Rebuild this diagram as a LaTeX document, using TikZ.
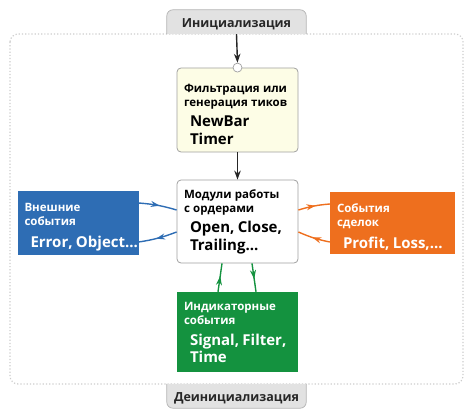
\documentclass[tikz,border=0pt]{standalone}
\usepackage{fontspec}
\setmainfont{Open Sans}
\usetikzlibrary{arrows.meta,decorations.markings,backgrounds}

\definecolor{sinij}{HTML}{2E6DB4}
\definecolor{oranzh}{HTML}{EE6F1E}
\definecolor{zelen}{HTML}{14923F}
\definecolor{zheltyj}{HTML}{FDFDE6}
\definecolor{ramka}{HTML}{A0A0A0}
\definecolor{vkladka}{HTML}{E2E2E2}

% заголовок и содержимое блока (необяз. аргументы -- сдвиг вниз и отступ)
\newcommand{\zagl}[2][0]{{\fontsize{11.5}{14}\selectfont\bfseries\rule{0pt}{\dimexpr9pt+#1pt*2\relax}#2\par}}
\newcommand{\soder}[2][3]{\vspace{#1pt}{\leftskip=6pt\hyphenpenalty=10000\fontsize{15}{17.5}\selectfont\bfseries #2\par}}

\tikzset{
  blok/.style={rectangle, rounded corners=4pt, draw=ramka, line width=0.8pt,
    minimum width=121pt, inner xsep=7pt, text width=107pt, align=left},
  cvetblok/.style={rectangle, fill=#1, draw=none, minimum width=121pt,
    minimum height=60pt, inner xsep=7pt, text width=107pt, align=left, text=white},
  tabtekst/.style={minimum width=139pt, minimum height=24pt, inner sep=0pt,
    text height=11pt, text depth=0pt,
    font=\fontsize{12.5}{14}\selectfont\bfseries, text=black!85},
  tabforma/.style={fill=vkladka, draw=ramka!80, line width=0.7pt, rounded corners=6pt},
  strelka/.style={-{Stealth[length=9pt,width=6.5pt]}, line width=1.4pt, black!85},
  seredina/.style={line width=1.4pt, draw=#1, postaction={decorate},
    decoration={markings, mark=at position 0.55 with {\arrow[#1]{Stealth[length=9pt,width=6pt]}}}}
}

\begin{document}
\begin{tikzpicture}[x=1pt,y=-1pt]
  \useasboundingbox (0,0) rectangle (474,420);

  % Вкладки
  \node[tabtekst] (init) at (236.5,22) {Инициализация};
  \node[tabtekst] (deinit) at (236.5,396) {Деинициализация};

  % Блоки
  \node[blok, fill=zheltyj, minimum height=84pt] (filtr) at (237.5,110)
    {\zagl[4]{Фильтрация или\\генерация тиков}\soder{NewBar\\Timer}};
  \node[blok, fill=white, minimum height=83pt] (modul) at (237.5,221.5)
    {\zagl{Модули работы\\с ордерами}\soder{Open, Close,\\Trailing...}};
  \node[cvetblok=sinij] (vnesh) at (78,223)
    {\zagl[4]{Внешние\\события}\soder[5]{\mbox{Error, Object...}}};
  \node[cvetblok=oranzh, minimum width=125pt, text width=111pt] (sdelki) at (392.5,223)
    {\zagl[4]{События\\сделок}\soder[5]{\mbox{Profit, Loss,...}}};
  \node[cvetblok=zelen, minimum height=80pt] (indik) at (237.5,332)
    {\zagl[0.5]{Индикаторные\\события}\soder{Signal, Filter,\\Time}};

  % Кружок входа
  \node[circle, draw=ramka, fill=white, line width=0.7pt, minimum size=9pt, inner sep=0pt] (vhod) at (filtr.north) {};

  % Фон: пунктирная рамка и формы вкладок
  \begin{scope}[on background layer]
    \draw[dotted, line width=1.2pt, black!20, rounded corners=8pt] (10,34) rectangle (463,384);
    \filldraw[tabforma] (init.south west) -- (init.north west) -- (init.north east) -- (init.south east);
    \filldraw[tabforma] (deinit.north west) -- (deinit.south west) -- (deinit.south east) -- (deinit.north east);
  \end{scope}

  % Черные стрелки
  \draw[strelka] (init.south) -- (vhod.north);
  \draw[strelka] (filtr.south) -- (modul.north);

  % Синие
  \draw[seredina=sinij] ([yshift=20pt]vnesh.east) to[bend left=6] ([yshift=11.5pt]modul.west);
  \draw[seredina=sinij] ([yshift=-10.5pt]modul.west) to[bend left=6] ([yshift=-19pt]vnesh.east);

  % Оранжевые
  \draw[seredina=oranzh] ([yshift=11.5pt]modul.east) to[bend left=6] ([yshift=19pt]sdelki.west);
  \draw[seredina=oranzh] ([yshift=-19pt]sdelki.west) to[bend left=6] ([yshift=-10.5pt]modul.east);

  % Зеленые
  \draw[seredina=zelen] ([xshift=-19.5pt]indik.north) -- ([xshift=-15.5pt]modul.south);
  \draw[seredina=zelen] ([xshift=14.5pt]modul.south) -- ([xshift=18.5pt]indik.north);
\end{tikzpicture}
\end{document}
